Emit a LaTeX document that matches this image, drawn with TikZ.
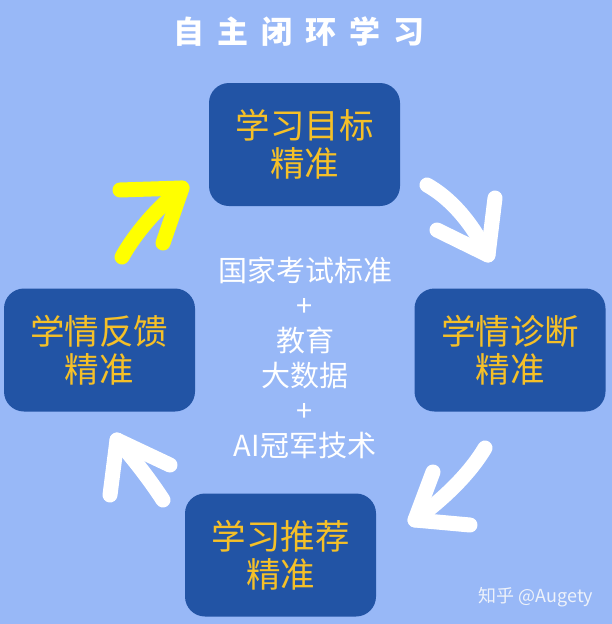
\documentclass[tikz,border=0pt]{standalone}
\usepackage{fontspec}
\newfontfamily\cjk{Noto Sans CJK SC}
\definecolor{bgblue}{RGB}{152,184,247}
\definecolor{boxblue}{RGB}{34,84,165}
\definecolor{boxtext}{RGB}{245,192,40}
\definecolor{arrowyellow}{RGB}{255,255,0}
\definecolor{wmark}{RGB}{238,242,250}
\tikzset{
  stage/.style={fill=boxblue, rounded corners=20pt, minimum width=191pt, minimum height=123pt,
    inner sep=0pt, align=center, text=boxtext, font=\cjk\fontsize{34.5}{38}\selectfont},
  centertext/.style={align=center, text=white, font=\cjk\fontsize{29}{35}\selectfont, inner sep=0pt},
  cyclearrow/.style={line width=15pt, line cap=round, line join=round},
}
\begin{document}
\begin{tikzpicture}[x=1pt,y=-1pt]
\fill[bgblue] (0,0) rectangle (612,624);
\useasboundingbox (0,0) rectangle (612,624);
% title
\node[text=white, inner sep=0pt, font=\cjk\bfseries\fontsize{31}{31}\selectfont] (title) at (299,32)
  {自\hspace{13pt}主\hspace{13pt}闭\hspace{13pt}环\hspace{13pt}学\hspace{13pt}习};
% boxes
\node[stage] (goal) at (304.5,144.5) {学习目标\\精准};
\node[stage] (diag) at (510,350) {学情诊断\\精准};
\node[stage] (rec) at (280.5,555) {学习推荐\\精准};
\node[stage] (fb) at (99.5,350) {学情反馈\\精准};
% center
\node[centertext] (core) at (305,358) {国家考试标准\\+\\教育\\大数据\\+\\AI冠军技术};
% arrows
\coordinate (y0) at (122,257); \coordinate (yt) at (182,188);
\coordinate (ya) at (120,190); \coordinate (yb) at (163,243);
\draw[cyclearrow, arrowyellow] (y0) .. controls (136,232) and (158,207) .. (yt);
\draw[cyclearrow, arrowyellow] (ya) -- (yt) -- (yb);
\coordinate (a0) at (427,185); \coordinate (at) at (488,255);
\coordinate (aa) at (437,230); \coordinate (ab) at (495,198);
\draw[cyclearrow, white] (a0) .. controls (450,198) and (471,221) .. (at);
\draw[cyclearrow, white] (aa) -- (at) -- (ab);
\coordinate (b0) at (485,448); \coordinate (bt) at (415,520);
\coordinate (ba) at (433,472); \coordinate (bb) at (470,525);
\draw[cyclearrow, white] (b0) .. controls (470,473) and (446,497) .. (bt);
\draw[cyclearrow, white] (ba) -- (bt) -- (bb);
\coordinate (c0) at (163,500); \coordinate (ct) at (117,440);
\coordinate (ca) at (110,495); \coordinate (cb) at (170,465);
\draw[cyclearrow, white] (c0) .. controls (150,480) and (133,458) .. (ct);
\draw[cyclearrow, white] (ca) -- (ct) -- (cb);
% watermark
\node[text=wmark, inner sep=0pt, font=\cjk\fontsize{18}{18}\selectfont] (wm) at (536,597) {知乎 @Augety};
\end{tikzpicture}
\end{document}
